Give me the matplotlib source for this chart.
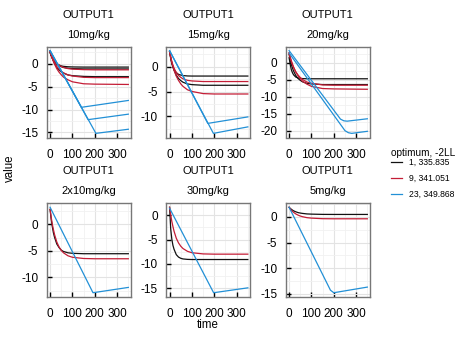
import matplotlib.pyplot as plt
from matplotlib.ticker import MultipleLocator

plt.rcParams['font.family'] = ['Liberation Sans', 'DejaVu Sans']
plt.rcParams['axes.unicode_minus'] = False

W, H = 474, 338

RUN_LABELS = ['1, 335.835', '9, 341.051', '23, 349.868']
RUN_COLORS = ['#111111', '#C41D36', '#2290D6']
LEGEND_TITLE = 'optimum, -2LL'

STRIP_TOP = 'OUTPUT1'
DOSES = ['10mg/kg', '15mg/kg', '20mg/kg', '2x10mg/kg', '30mg/kg', '5mg/kg']

# time grid of the smooth (black / red) predictions
TIME = [0, 5, 10, 15, 20, 30, 40, 50, 60, 80, 100, 150, 200, 350]

# 10mg/kg
D10_BLACK = [
    [2.6, 1.87, 1.31, 0.85, 0.52, 0.03, -0.24, -0.44, -0.54, -0.63, -0.67, -0.7, -0.7, -0.7],
    [2.4, 1.77, 1.25, 0.83, 0.48, -0.05, -0.4, -0.61, -0.79, -0.96, -1.03, -1.1, -1.1, -1.1],
    [2.8, 1.96, 1.23, 0.62, 0.06, -0.73, -1.34, -1.74, -2.02, -2.41, -2.58, -2.74, -2.8, -2.8],
]
D10_RED = [
    [2.6, 2.02, 1.51, 1.08, 0.69, 0.14, -0.29, -0.56, -0.75, -1.03, -1.14, -1.26, -1.3, -1.3],
    [2.8, 2.05, 1.35, 0.77, 0.25, -0.56, -1.14, -1.61, -1.96, -2.42, -2.65, -2.94, -3.0, -3.0],
    [2.8, 1.92, 1.19, 0.54, -0.05, -1.07, -1.8, -2.38, -2.89, -3.48, -3.92, -4.35, -4.43, -4.5],
]
D10_BLUE_T = [[0, 140, 350], [0, 170, 350], [0, 205, 350]]
D10_BLUE_V = [[2.9, -9.5, -8.0], [2.9, -12.2, -11.0], [2.9, -15.2, -14.3]]

# 15mg/kg
D15_BLACK = [
    [3.0, 1.63, 0.6, -0.09, -0.63, -1.21, -1.56, -1.7, -1.8, -1.88, -1.9, -1.9, -1.9, -1.9],
    [3.0, 1.79, 0.77, -0.04, -0.71, -1.73, -2.4, -2.81, -3.14, -3.48, -3.62, -3.75, -3.75, -3.75],
]
D15_RED = [
    [3.0, 1.92, 1.02, 0.3, -0.3, -1.2, -1.8, -2.16, -2.46, -2.76, -2.88, -3.0, -3.0, -3.0],
    [3.0, 1.9, 0.88, 0.03, -0.74, -1.93, -2.78, -3.46, -3.97, -4.65, -4.99, -5.42, -5.5, -5.5],
]
D15_BLUE_T = [[0, 171, 350], [0, 196, 350]]
D15_BLUE_V = [[3.2, -11.4, -10.1], [3.2, -13.4, -12.1]]

# 20mg/kg
D20_BLACK = [
    [1.5, -0.41, -2.03, -2.9, -3.52, -4.2, -4.45, -4.58, -4.64, -4.7, -4.7, -4.7, -4.7, -4.7],
    [2.5, 0.8, -0.44, -1.5, -2.4, -3.73, -4.62, -5.15, -5.6, -6.04, -6.22, -6.4, -6.4, -6.4],
]
D20_RED = [
    [2.8, 1.58, 0.45, -0.49, -1.34, -2.65, -3.59, -4.34, -4.91, -5.66, -6.04, -6.51, -6.6, -6.6],
    [3.0, 1.7, 0.62, -0.35, -1.21, -2.72, -3.8, -4.67, -5.42, -6.29, -6.94, -7.58, -7.69, -7.8],
]
D20_BLUE_T = [[0, 230, 245, 260, 350], [0, 250, 265, 280, 350]]
D20_BLUE_V = [[3.6, -16.6, -17.1, -17.2, -16.5], [2.9, -20.0, -20.6, -20.8, -20.2]]

# 2x10mg/kg
D2X10_BLACK = [
    [2.8, 0.96, -0.46, -1.63, -2.46, -3.71, -4.38, -4.88, -5.13, -5.38, -5.47, -5.55, -5.55, -5.55],
]
D2X10_RED = [
    [2.8, 1.31, 0.01, -1.01, -1.94, -3.34, -4.27, -4.92, -5.38, -5.94, -6.22, -6.45, -6.5, -6.5],
]
D2X10_BLUE_T = [[0, 192, 350]]
D2X10_BLUE_V = [[3.2, -12.9, -11.9]]

# 30mg/kg
D30_BLACK = [
    [1.6, -2.8, -4.9, -6.2, -7.0, -8.1, -8.6, -8.85, -8.98, -9.07, -9.1, -9.1, -9.1, -9.1],
]
D30_RED = [
    [1.6, 0.06, -1.28, -2.34, -3.3, -4.74, -5.7, -6.37, -6.85, -7.42, -7.71, -7.95, -8.0, -8.0],
]
D30_BLUE_T = [[0, 197, 350]]
D30_BLUE_V = [[1.4, -15.9, -14.9]]

# 5mg/kg
D5_BLACK = [
    [1.9, 1.69, 1.51, 1.35, 1.21, 1.02, 0.86, 0.77, 0.7, 0.6, 0.56, 0.51, 0.5, 0.5],
]
D5_RED = [
    [1.9, 1.61, 1.34, 1.11, 0.91, 0.6, 0.37, 0.19, 0.06, -0.13, -0.22, -0.33, -0.35, -0.35],
]
D5_BLUE_T = [[0, 185, 200, 350]]
D5_BLUE_V = [[1.9, -14.3, -14.8, -13.7]]

BLACK = [D10_BLACK, D15_BLACK, D20_BLACK, D2X10_BLACK, D30_BLACK, D5_BLACK]
RED = [D10_RED, D15_RED, D20_RED, D2X10_RED, D30_RED, D5_RED]
BLUE_T = [D10_BLUE_T, D15_BLUE_T, D20_BLUE_T, D2X10_BLUE_T, D30_BLUE_T, D5_BLUE_T]
BLUE_V = [D10_BLUE_V, D15_BLUE_V, D20_BLUE_V, D2X10_BLUE_V, D30_BLUE_V, D5_BLUE_V]

# panel boxes in pixels
COL_LEFT = [46.5, 166, 285.5]
PANEL_W = 84.5
ROW_TOP = [46.5, 203]
ROW_BOTTOM = [137.5, 297]


def fx(px):
    return px / W


def fy(py):
    return 1 - py / H


def style_axes(ax):
    ax.set_xlim(-16, 362)
    ax.margins(y=0.05)
    ax.xaxis.set_major_locator(MultipleLocator(100))
    ax.xaxis.set_minor_locator(MultipleLocator(50))
    ax.yaxis.set_major_locator(MultipleLocator(5))
    ax.yaxis.set_minor_locator(MultipleLocator(2.5))
    ax.grid(which='major', color='#e3e3e3', linewidth=0.8)
    ax.grid(which='minor', color='#f1f1f1', linewidth=0.6)
    ax.set_axisbelow(True)
    ax.tick_params(which='major', direction='in', length=3.5, width=1,
                   color='black', labelsize=8.5)
    ax.tick_params(axis='x', which='major', pad=8)
    ax.tick_params(axis='y', which='major', pad=6)
    ax.tick_params(which='minor', length=0)
    for s in ax.spines.values():
        s.set_color('#777777')
        s.set_linewidth(1)


def main():
    fig = plt.figure(figsize=(W / 100, H / 100), dpi=100)

    handles = []
    for i, dose in enumerate(DOSES):
        r, c = divmod(i, 3)
        left = COL_LEFT[c]
        ax = fig.add_axes([fx(left), fy(ROW_BOTTOM[r]), PANEL_W / W,
                           (ROW_BOTTOM[r] - ROW_TOP[r]) / H])
        lines = []
        for v in BLACK[i]:
            lines.append(ax.plot(TIME, v, color=RUN_COLORS[0], lw=0.9)[0])
        for v in RED[i]:
            lines.append(ax.plot(TIME, v, color=RUN_COLORS[1], lw=0.9)[0])
        for t, v in zip(BLUE_T[i], BLUE_V[i]):
            lines.append(ax.plot(t, v, color=RUN_COLORS[2], lw=0.9)[0])
        if i == 0:
            handles = [lines[0], lines[len(BLACK[0])], lines[-1]]
        style_axes(ax)

        cx = fx(left + PANEL_W / 2)
        top = ROW_TOP[r]
        fig.text(cx, fy(top - 31.5), STRIP_TOP, ha='center', va='center', fontsize=8.0)
        fig.text(cx, fy(top - 11.5), dose, ha='center', va='center', fontsize=8.0)

    fig.text(fx(208), fy(325.5), 'time', ha='center', va='center', fontsize=8.3)
    fig.text(fx(10), fy(168), 'value', ha='center', va='center', fontsize=8.3,
             rotation=90)

    fig.text(fx(391), fy(153), LEGEND_TITLE, ha='left', va='center', fontsize=7.2)
    fig.legend(handles, RUN_LABELS, loc='upper left',
               bbox_to_anchor=(fx(391), fy(158)), frameon=False, fontsize=6.2,
               handlelength=1.3, handletextpad=0.8, labelspacing=0.83,
               borderpad=0, borderaxespad=0)

    fig.savefig('out.png', dpi=100)


if __name__ == '__main__':
    main()
